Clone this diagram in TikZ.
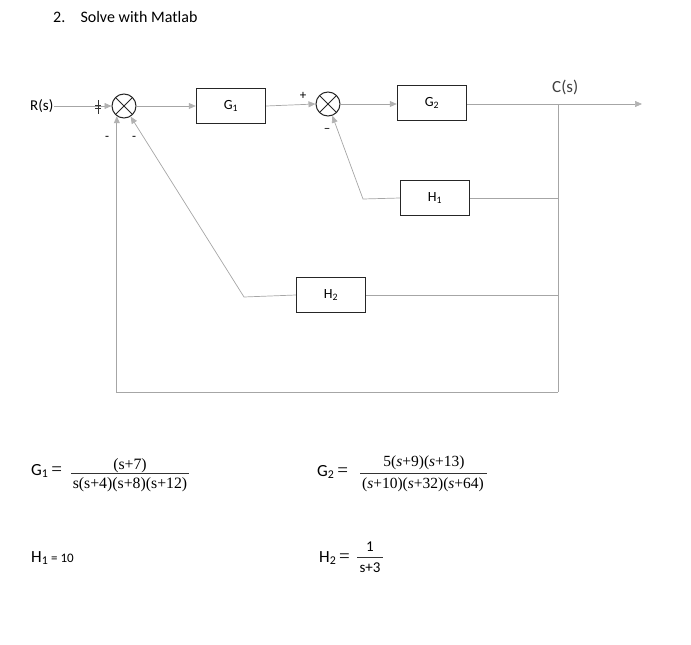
\documentclass[tikz,border=0pt]{standalone}
\usepackage{fontspec}
\setmainfont{Carlito}
\newfontfamily\eqfont{Liberation Serif}
\usetikzlibrary{arrows.meta,calc}
\newcommand\subx[1]{\textsubscript{#1}}
\newcommand\fs[1]{\fontsize{#1}{#1}\selectfont}
\newcommand\eqsign{{\eqfont\fs{19}=}}
\tikzset{
  wire/.style={draw=black!35, line width=0.7pt},
  arr/.style={wire, -{Triangle[length=7pt,width=6pt,color=black!30]}},
  blk/.style={draw=black!85, line width=1.4pt, minimum width=69pt, minimum height=35pt, inner sep=0pt, font=\fs{14}},
  sumj/.style={circle, draw=black!85, line width=1pt, minimum size=24pt, inner sep=0pt,
    path picture={\draw[black!85,line width=1pt]
      (path picture bounding box.south west) -- (path picture bounding box.north east)
      (path picture bounding box.north west) -- (path picture bounding box.south east);}},
  lbl/.style={inner sep=0pt, font=\fs{15}},
  sgn/.style={inner sep=0pt, font=\fs{13}},
  eqs/.style={inner sep=0pt, font=\eqfont\fs{15.8}},
  eqb/.style={inner sep=0pt, font=\eqfont\fs{15.5}},
  eql/.style={inner sep=0pt, anchor=west, font=\fs{17}},
  bar/.style={draw=black!80, line width=0.6pt},
}
\begin{document}
\begin{tikzpicture}[x=1pt,y=-1pt]
\useasboundingbox (0,0) rectangle (691,645);
% title
\node[inner sep=0pt, anchor=west, font=\fs{16}] (title) at (53,17) {2.\hspace{0.95em}Solve with Matlab};
% forward path
\node[lbl, anchor=west] (R) at (30,106) {R(s)};
\node[sumj] (sum1) at (124,106) {};
\node[blk] (G1) at (231,106) {G\subx{1}};
\node[sumj] (sum2) at (328,104) {};
\node[blk] (G2) at (432,103) {G\subx{2}};
\node[blk] (H1) at (435,198) {H\subx{1}};
\node[blk] (H2) at (331,295) {H\subx{2}};
\coordinate (out) at (642,104);
\coordinate (br) at (558,392);
\coordinate (tr) at (558,104);
\coordinate (h1c) at (363,199);
\coordinate (h2c) at (244,297);
\node[lbl, anchor=west, text=black!75, font=\fs{17}] (C) at (552,87) {C(s)};
% connectors
\draw[arr] (R.east) -- (sum1.west);
\draw[arr] (sum1.east) -- (G1.west);
\draw[arr] (G1.east) -- (sum2.west);
\draw[arr] (sum2.east) -- (G2.west |- sum2.east);
\draw[arr] (G2.east |- out) -- (out);
\draw[wire] (tr) -- (br);
\draw[wire] (H1.east) -- (H1.east -| br);
\draw[arr] (H1.west) -- (h1c) -- (sum2);
\draw[wire] (H2.east) -- (H2.east -| br);
\draw[arr] (H2.west) -- (h2c) -- (sum1);
\coordinate (bl) at (sum1.235 |- br);
\draw[arr] (br) -- (bl) -- (sum1.235);
% signs
\draw[black!80, line width=0.6pt] (98,100) -- (98,114) (95,105) -- (101,105) (95,108.5) -- (101,108.5);
\node[sgn] (m1) at (107,138) {-};
\node[sgn] (m2) at (134,138) {-};
\node[sgn] (p2) at (303,96) {+};
\node[sgn] (m3) at (327,130) {--};
% equations
\node[eql] (G1eq) at (31,471) {G\subx{1}\,\eqsign};
\node[eqs] (G1n) at (130,466) {(s+7)};
\draw[bar] (71,473) -- (189,473);
\node[eqs] (G1d) at (130,485) {s(s+4)(s+8)(s+12)};
\node[eql] (G2eq) at (317,472) {G\subx{2}\,\eqsign};
\node[eqb] (G2n) at (424,463) {5(\textit{s}+9)(\textit{s}+13)};
\draw[bar] (360,473) -- (487,473);
\node[eqb] (G2d) at (423,485) {(\textit{s}+10)(\textit{s}+32)(\textit{s}+64)};
\node[eql] (H1eq) at (31,558) {H\subx{1}\,{\fs{13}= 10}};
\node[eql] (H2eq) at (319,558) {H\subx{2}\,\eqsign};
\node[inner sep=0pt, font=\fs{15}] (H2n) at (370,547) {1};
\draw[bar] (357,557) -- (383,557);
\node[inner sep=0pt, font=\fs{15}] (H2d) at (370,568) {s+3};
\end{tikzpicture}
\end{document}
